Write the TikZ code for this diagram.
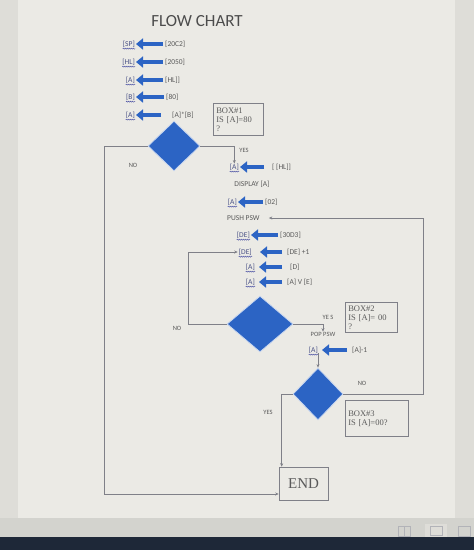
\documentclass[tikz,border=0pt]{standalone}
\usepackage{fontspec}
\setmainfont{Liberation Serif}
\newfontfamily\lblfont{Carlito}
\usetikzlibrary{arrows.meta,shapes.geometric,decorations.pathmorphing,calc}
\definecolor{pagebg}{HTML}{EBEAE5}
\definecolor{outbg}{HTML}{DEDDD8}
\definecolor{bandbg}{HTML}{D3D3CE}
\definecolor{darkbar}{HTML}{1E2838}
\definecolor{fcblue}{HTML}{2C64C4}
\definecolor{txtgray}{HTML}{5A5A5A}
\definecolor{lblblue}{HTML}{4A5286}
\definecolor{linegray}{HTML}{7F8088}
\begin{document}
\begin{tikzpicture}[x=1pt,y=-1pt,
  lbl/.style={font=\lblfont\fontsize{7.5}{9}\selectfont, text=lblblue, inner sep=0pt},
  rlbl/.style={font=\lblfont\fontsize{7.5}{9}\selectfont, text=txtgray, inner sep=0pt},
  tag/.style={font=\lblfont\fontsize{6.5}{8}\selectfont, text=txtgray, inner sep=0pt},
  barrow/.style={draw=fcblue, line width=4.5pt, -{Triangle[length=7pt,width=11pt]}, shorten >=1pt, shorten <=2pt},
  conn/.style={draw=linegray, line width=0.6pt, -{Stealth[length=3.5pt,width=3pt]}},
  plain/.style={draw=linegray, line width=0.6pt},
  squig/.style={draw=lblblue!80!blue, line width=0.35pt, decorate, decoration={snake, segment length=2pt, amplitude=0.6pt}},
  dec/.style={shape=diamond, fill=fcblue, draw=white!75!fcblue, line width=0.8pt, inner sep=0pt},
  infobox/.style={draw=linegray, line width=0.6pt, fill=pagebg, inner sep=3pt, align=left, anchor=north west,
     font=\fontsize{8.5}{9}\selectfont, text=txtgray}
]
\useasboundingbox (0,0) rectangle (474,550);
% screen / page background
\fill[outbg] (0,0) rectangle (474,550);
\fill[pagebg] (18,0) rectangle (455,518);
\fill[bandbg] (0,518) rectangle (474,537);
\fill[darkbar] (0,537) rectangle (474,550);
\draw[linegray!60, line width=0.5pt] (398,526) rectangle (410,536);
\draw[linegray!60, line width=0.5pt] (404,526) -- (404,536);
\fill[outbg] (425,524) rectangle (447,537);
\draw[linegray!60, line width=0.5pt] (430,526) rectangle (442,535);
\draw[linegray!60, line width=0.5pt] (458,526) rectangle (470,536);

% title
\node[font=\lblfont\fontsize{17}{20}\selectfont, text=black!70, inner sep=0pt] (title) at (197,21) {FLOW CHART};

% initial assignments
\node[lbl,anchor=east] (l1) at (135,44) {[SP]};
\node[rlbl,anchor=west] (r1) at (165,44) {[20C2]};
\node[lbl,anchor=east] (l2) at (135,62) {[HL]};
\node[rlbl,anchor=west] (r2) at (165,62) {[2050]};
\node[lbl,anchor=east] (l3) at (135,80) {[A]};
\node[rlbl,anchor=west] (r3) at (165,80) {[HL]]};
\node[lbl,anchor=east] (l4) at (135,97) {[B]};
\node[rlbl,anchor=west] (r4) at (166,97) {[80]};
\node[lbl,anchor=east] (l5) at (135,115) {[A]};
\node[rlbl,anchor=west] (r5) at (172,115) {[A]*[B]};
\draw[barrow] (r1.west) -- (l1.east);
\draw[barrow] (r2.west) -- (l2.east);
\draw[barrow] (r3.west) -- (l3.east);
\draw[barrow] (r4.west) -- (l4.east);
\draw[barrow] ($(r5.west)+(-9,0)$) -- (l5.east);

% box 1 and decision 1
\node[infobox, text width=44pt, minimum height=32pt] (box1) at (213,103) {BOX\#1\\IS [A]=80\\?};
\node[dec, minimum width=52pt, minimum height=50pt] (d1) at (174,146) {};
\node[tag] (yes1) at (244,150) {YES};
\node[tag] (no1) at (133,165) {NO};

% main sequence
\node[lbl,anchor=east] (a6) at (239,167) {[A]};
\node[rlbl,anchor=west] (r6) at (272,167) {[ [HL]]};
\draw[barrow] ($(r6.west)+(-6,0)$) -- (a6.east);
\node[rlbl] (disp) at (252,184) {DISPLAY [A]};
\node[lbl,anchor=east] (a8) at (237,202) {[A]};
\node[rlbl,anchor=west] (r8) at (265,202) {[02]};
\draw[barrow] (r8.west) -- (a8.east);
\node[rlbl,anchor=west] (push) at (227,218) {PUSH PSW};
\node[lbl,anchor=east] (a10) at (250,235) {[DE]};
\node[rlbl,anchor=west] (r10) at (280,235) {[30D3]};
\draw[barrow] (r10.west) -- (a10.east);
\node[lbl,anchor=east] (a11) at (252,252) {[DE]};
\node[rlbl,anchor=west] (r11) at (287,252) {[DE] +1};
\draw[barrow] ($(r11.west)+(-3,0)$) -- ($(a11.east)+(7,0)$);
\node[lbl,anchor=east] (a12) at (255,267) {[A]};
\node[rlbl,anchor=west] (r12) at (290,267) {[D]};
\draw[barrow] ($(r12.west)+(-6,0)$) -- ($(a12.east)+(3,0)$);
\node[lbl,anchor=east] (a13) at (255,282) {[A]};
\node[rlbl,anchor=west] (r13) at (287,282) {[A] V [E]};
\draw[barrow] ($(r13.west)+(-3,0)$) -- ($(a13.east)+(3,0)$);

% decision 2
\node[dec, minimum width=66pt, minimum height=56pt] (d2) at (260,324) {};
\node[tag] (no2) at (177,328) {NO};
\node[tag] (yes2) at (328,317) {YE S};
\node[tag] (pop) at (323,334) {POP PSW};
\node[infobox, text width=46pt, minimum height=30pt] (box2) at (345,302) {BOX\#2\\IS [A]= 00\\?};
\node[lbl,anchor=east] (a14) at (318,350) {[A]};
\node[rlbl,anchor=west] (r14) at (352,350) {[A]-1};
\draw[barrow] ($(r14.west)+(-3,0)$) -- ($(a14.east)+(3,0)$);

% decision 3
\node[dec, minimum width=50pt, minimum height=52pt] (d3) at (318,394) {};
\node[tag] (no3) at (362,383) {NO};
\node[tag] (yes3) at (268,412) {YES};
\node[infobox, text width=57pt, minimum height=36pt] (box3) at (345,400) {BOX\#3\\IS [A]=00?};

% end
\node[draw=linegray, line width=0.6pt, fill=pagebg, minimum width=49pt, minimum height=33pt, inner sep=0pt,
      font=\fontsize{15}{16}\selectfont, text=txtgray] (endb) at (303.5,483.5) {END};

% spell-check squiggles
\foreach \n in {l1,l2,l3,l4,l5,a6,a8,a10,a11,a12,a13,a14}
  \draw[squig] ($(\n.south west)+(0,1.2)$) -- ($(\n.south east)+(0,1.2)$);

% connectors
\coordinate (lc) at (104,494);
\coordinate (lc2) at (188,252);
\coordinate (rc) at (423,218);
\draw[conn] (d1.east) -| (a6.north);
\draw[conn] (d1.west) -| (lc) -- (lc -| endb.west);
\draw[conn, shorten >=1pt] (d2.west) -| (lc2) -- (a11.west);
\draw[conn] (d2.east) -| (pop.north);
\draw[conn] (d3.north |- a14.south) -- (d3.north);
\draw[conn, shorten >=9pt] (d3.east) -| (rc) -- (push.east);
\draw[conn] (d3.west) -| ($(endb.north west)+(3,0)$);
\end{tikzpicture}
\end{document}
